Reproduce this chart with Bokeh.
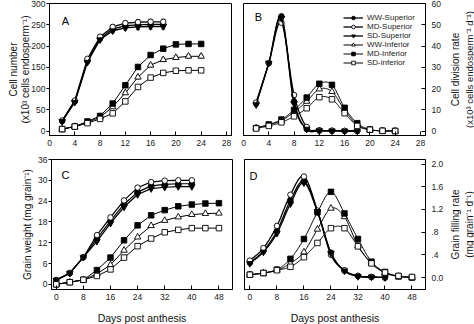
import numpy as np
from bokeh.plotting import figure
from bokeh.layouts import column, row
from bokeh.models import (Range1d, FixedTicker, Label, Legend, LegendItem, Whisker, ColumnDataSource,
                          TeeHead, LinearAxis)
from bokeh.embed import file_html
from bokeh.resources import INLINE

FONT = "Liberation Sans"

# ---------------- data ----------------
names = ["WW-Superior", "MD-Superior", "SD-Superior", "WW-Inferior", "MD-Inferior", "SD-inferior"]

# Panel A: cell number (x10^3 cells endosperm^-1)
a_days_sup = [2, 4, 6, 8, 10, 12, 14, 16, 18]
a_days_inf = [2, 4, 6, 8, 10, 12, 14, 16, 18, 20, 22, 24]
a_ww_sup = [24, 70, 165, 218, 240, 248, 250, 251, 251]
a_md_sup = [25, 72, 170, 222, 245, 254, 256, 257, 257]
a_sd_sup = [23, 68, 162, 215, 236, 243, 245, 246, 246]
a_ww_inf = [5, 11, 21, 33, 57, 90, 127, 155, 168, 173, 176, 176]
a_md_inf = [5, 11, 23, 36, 65, 108, 151, 179, 194, 204, 205, 205]
a_sd_inf = [5, 11, 19, 29, 42, 70, 104, 126, 137, 142, 143, 143]
a_err_sup = [1, 2, 3, 4, 5, 5, 6, 6, 6]
a_err_inf = [1, 1, 2, 2, 3, 3, 4, 4, 4, 4, 4, 4]

# Panel B: cell division rate (x10^3 cells endosperm^-1 d^-1)
b_days_sup = [2, 4, 6, 8, 10, 12, 14, 16, 18]
b_days_inf = [2, 4, 6, 8, 10, 12, 14, 16, 18, 20, 22, 24]
b_ww_sup = [13, 32, 54, 14, 1.0, 0.3, 0.2, 0.1, 0.1]
b_md_sup = [13.5, 32, 51, 17, 2.0, 0.5, 0.3, 0.2, 0.1]
b_sd_sup = [12.5, 32, 53, 13, 1.0, 0.3, 0.2, 0.1, 0.1]
b_ww_inf = [1.5, 3.0, 5.0, 9.0, 14, 19.8, 18.6, 10, 3.0, 0.7, 0.2, 0.1]
b_md_inf = [1.5, 3.2, 5.5, 10, 15.8, 22.3, 21.8, 11, 3.8, 0.8, 0.2, 0.1]
b_sd_inf = [1.3, 2.5, 4.2, 7.0, 10.8, 16.0, 15.0, 8.5, 2.5, 0.7, 0.2, 0.1]

# Panel C: grain weight (mg grain^-1)
c_days_sup = [0, 4, 8, 12, 16, 20, 24, 28, 32, 36, 40]
c_days_inf = [0, 4, 8, 12, 16, 20, 24, 28, 32, 36, 40, 44, 48]
c_ww_sup = [1.2, 3.2, 7.8, 13.2, 18.3, 23.1, 26.6, 28.4, 28.8, 29.0, 29.0]
c_md_sup = [1.2, 3.3, 7.8, 14.2, 19.3, 24.2, 27.9, 29.5, 29.9, 30.0, 30.0]
c_sd_sup = [1.2, 3.2, 7.8, 12.4, 17.6, 22.3, 25.9, 27.6, 28.0, 28.2, 28.2]
c_ww_inf = [0.0, 0.6, 1.3, 3.0, 5.6, 9.8, 13.6, 16.9, 18.4, 19.4, 20.1, 20.4, 20.5]
c_md_inf = [0.0, 0.6, 1.3, 4.1, 7.7, 12.7, 17.0, 19.9, 21.4, 22.5, 23.0, 23.3, 23.4]
c_sd_inf = [0.0, 0.6, 1.3, 2.4, 4.3, 7.7, 11.0, 13.2, 15.0, 15.7, 16.2, 16.2, 16.2]

# Panel D: grain filling rate (mg grain^-1 d^-1)
d_days_sup = [0, 4, 8, 12, 16, 20, 24, 28, 32, 36, 40]
d_days_inf = [0, 4, 8, 12, 16, 20, 24, 28, 32, 36, 40, 44, 48]
d_ww_sup = [0.26, 0.47, 0.82, 1.36, 1.70, 1.17, 0.44, 0.12, 0.03, 0.01, 0.0]
d_md_sup = [0.30, 0.52, 0.91, 1.46, 1.78, 1.18, 0.40, 0.13, 0.03, 0.01, 0.0]
d_sd_sup = [0.25, 0.45, 0.78, 1.30, 1.67, 1.16, 0.43, 0.12, 0.02, 0.01, 0.0]
d_ww_inf = [0.05, 0.08, 0.13, 0.25, 0.45, 0.85, 1.22, 1.07, 0.56, 0.25, 0.08, 0.02, 0.0]
d_md_inf = [0.05, 0.08, 0.14, 0.33, 0.68, 1.15, 1.51, 1.13, 0.68, 0.28, 0.10, 0.02, 0.0]
d_sd_inf = [0.05, 0.08, 0.13, 0.19, 0.36, 0.61, 0.87, 0.87, 0.55, 0.25, 0.09, 0.03, 0.01]

ticks_top_x = [0, 4, 8, 12, 16, 20, 24, 28]
ticks_bot_x = [0, 8, 16, 24, 32, 40, 48]
ticks_a_y = [0, 50, 100, 150, 200, 250, 300]
ticks_b_y = [0, 10, 20, 30, 40, 50, 60]
ticks_c_y = [0, 6, 12, 18, 24, 30, 36]
ticks_d_y = [0.0, 0.4, 0.8, 1.2, 1.6, 2.0]
labels_d_y = {0.0: "0.0", 0.4: ".4", 0.8: ".8", 1.2: "1.2", 1.6: "1.6", 2.0: "2.0"}

title_a1, title_a2 = "Cell number", "(x10³ cells endosperm⁻¹)"
title_b1, title_b2 = "Cell division rate", "(x10³ cells endosperm⁻¹ d⁻¹)"
title_c = "Grain weight (mg grain⁻¹)"
title_d1, title_d2 = "Grain filling rate", "(mg grain⁻¹ d⁻¹)"
title_x = "Days post anthesis"

styles = {
    "WW-Superior": dict(marker="circle", fill="black", size=5.5),
    "MD-Superior": dict(marker="circle", fill="white", size=5.5),
    "SD-Superior": dict(marker="inverted_triangle", fill="black", size=6.5),
    "WW-Inferior": dict(marker="triangle", fill="white", size=6.5),
    "MD-Inferior": dict(marker="square", fill="black", size=5.5),
    "SD-inferior": dict(marker="square", fill="white", size=5.5),
}


def smooth(xs, ys, n=16):
    xs = np.asarray(xs, float)
    ys = np.asarray(ys, float)
    px = np.concatenate([[2 * xs[0] - xs[1]], xs, [2 * xs[-1] - xs[-2]]])
    py = np.concatenate([[2 * ys[0] - ys[1]], ys, [2 * ys[-1] - ys[-2]]])
    ox, oy = [], []
    t = np.linspace(0, 1, n, endpoint=False)
    for i in range(1, len(px) - 2):
        for arr, out in ((px, ox), (py, oy)):
            p0, p1, p2, p3 = arr[i - 1], arr[i], arr[i + 1], arr[i + 2]
            out.extend(0.5 * ((2 * p1) + (-p0 + p2) * t + (2 * p0 - 5 * p1 + 4 * p2 - p3) * t ** 2
                              + (-p0 + 3 * p1 - 3 * p2 + p3) * t ** 3))
    ox.append(xs[-1])
    oy.append(ys[-1])
    return ox, oy


def style_label(ax, size):
    ax.axis_label_text_font = FONT
    ax.axis_label_text_font_size = size
    ax.axis_label_text_font_style = "normal"
    ax.axis_label_text_color = "#111111"


def make_fig(xr, yr, fw, fh, bl, br, bt, bb, yside, xt, yt, xtitle=None):
    p = figure(frame_width=fw, frame_height=fh, x_range=Range1d(*xr), y_range=Range1d(*yr),
               output_backend="svg", toolbar_location=None, y_axis_location=yside,
               min_border_left=bl, min_border_right=br, min_border_top=bt, min_border_bottom=bb,
               background_fill_color="white", border_fill_color="white")
    p.grid.visible = False
    p.outline_line_color = "black"
    p.outline_line_alpha = 1.0
    p.outline_line_width = 1
    p.xaxis.ticker = FixedTicker(ticks=xt)
    p.yaxis.ticker = FixedTicker(ticks=yt)
    for ax in p.axis:
        ax.major_label_text_font = FONT
        ax.major_label_text_font_size = "8.5px"
        ax.major_label_text_color = "#222222"
        ax.minor_tick_line_color = None
        ax.axis_line_color = "black"
        ax.major_tick_line_color = "black"
        style_label(ax, "10px")
    p.xaxis.major_tick_in = 4
    p.xaxis.major_tick_out = 0
    p.xaxis.major_label_standoff = 4
    if xtitle:
        p.xaxis.axis_label = xtitle
        p.xaxis.axis_label_text_font_size = "10.5px"
        p.xaxis.axis_label_standoff = 9
    if yside == "left":
        p.yaxis.major_tick_in = 0
        p.yaxis.major_tick_out = 3
        p.yaxis.major_label_standoff = 1
    else:
        p.yaxis.major_tick_in = 4
        p.yaxis.major_tick_out = 0
        p.yaxis.major_label_standoff = 6
    return p


def title_axis(text, size, standoff):
    ax = LinearAxis(ticker=FixedTicker(ticks=[]), axis_line_color=None, major_tick_line_color=None,
                    minor_tick_line_color=None, major_tick_in=0, major_tick_out=0,
                    major_label_standoff=0, axis_label=text, axis_label_standoff=standoff)
    style_label(ax, size)
    return ax


def title_strip(fh, bt, bb, inner, outer, size_in, size_out, s_in, s_out):
    # narrow strip to the right of a panel; its left-side axes carry the right-hand titles
    t = figure(frame_width=1, frame_height=fh, min_border_left=27, min_border_right=0,
               min_border_top=bt, min_border_bottom=bb, x_range=Range1d(0, 1), y_range=Range1d(0, 1),
               x_axis_location=None, y_axis_location=None, output_backend="svg", toolbar_location=None,
               background_fill_color="white", border_fill_color="white")
    t.outline_line_color = None
    t.grid.visible = False
    t.add_layout(title_axis(outer, size_out, s_out), "left")
    t.add_layout(title_axis(inner, size_in, s_in), "left")
    return t


def add_text(p, x, y, text, size):
    p.add_layout(Label(x=x, y=y, x_units="screen", y_units="screen", text=text,
                       text_font=FONT, text_font_size=size, text_align="center",
                       text_baseline="middle", text_color="black"))


def draw_series(p, days, vals, name, smooth_line, lw):
    st = styles[name]
    if smooth_line:
        lx, ly = smooth(days, vals)
    else:
        lx, ly = days, vals
    lr = p.line(lx, ly, line_color="black", line_width=lw)
    sr = p.scatter(days, vals, marker=st["marker"], size=st["size"], fill_color=st["fill"],
                   line_color="black", line_width=0.9)
    return lr, sr


# ---------------- panel A ----------------
pA = make_fig((0, 28.8), (-10, 300), 182, 132, 49, 6, 3, 16, "left", ticks_top_x, ticks_a_y)
pA.yaxis[0].axis_label = title_a2
pA.yaxis[0].axis_label_standoff = -3
pA.add_layout(title_axis(title_a1, "10px", -1), "left")
sets_a = [(a_days_sup, a_ww_sup, "WW-Superior", a_err_sup), (a_days_sup, a_md_sup, "MD-Superior", a_err_sup),
          (a_days_sup, a_sd_sup, "SD-Superior", a_err_sup), (a_days_inf, a_ww_inf, "WW-Inferior", a_err_inf),
          (a_days_inf, a_md_inf, "MD-Inferior", a_err_inf), (a_days_inf, a_sd_inf, "SD-inferior", a_err_inf)]
for d, v, n, e in sets_a:
    src = ColumnDataSource(dict(x=d, u=[a + b for a, b in zip(v, e)], l=[a - b for a, b in zip(v, e)]))
    pA.add_layout(Whisker(source=src, base="x", upper="u", lower="l", line_color="black", line_width=0.8,
                          upper_head=TeeHead(size=4, line_color="black", line_width=0.8),
                          lower_head=TeeHead(size=4, line_color="black", line_width=0.8)))
for d, v, n, e in sets_a:
    draw_series(pA, d, v, n, False, 1.3 if "Superior" in n else 1.0)
add_text(pA, 16, 115, "A", "11px")

# ---------------- panel B ----------------
pB = make_fig((0, 28.8), (-2, 60), 182, 132, 6, 21, 3, 16, "right", ticks_top_x, ticks_b_y)
sets_b = [(b_days_sup, b_ww_sup, "WW-Superior"), (b_days_sup, b_md_sup, "MD-Superior"),
          (b_days_sup, b_sd_sup, "SD-Superior"), (b_days_inf, b_ww_inf, "WW-Inferior"),
          (b_days_inf, b_md_inf, "MD-Inferior"), (b_days_inf, b_sd_inf, "SD-inferior")]
items = []
for d, v, n in sets_b:
    lr, sr = draw_series(pB, d, v, n, True, 1.3 if "Superior" in n else 1.0)
    items.append(LegendItem(label=n, renderers=[lr, sr]))
leg = Legend(items=items, location=(100, 68), padding=0, margin=0, spacing=0,
             glyph_width=20, glyph_height=9, label_height=9, label_standoff=4,
             label_text_font=FONT, label_text_font_size="8px", label_text_color="#222222",
             border_line_color=None, background_fill_alpha=0.0)
pB.add_layout(leg)
add_text(pB, 15, 119, "B", "11px")
tB = title_strip(132, 3, 16, title_b1, title_b2, "10px", "9.5px", 0, 0)

# ---------------- panel C ----------------
pC = make_fig((-1.4, 52), (-1.5, 36), 181, 130, 51, 5, 8, 35, "left", ticks_bot_x, ticks_c_y, title_x)
pC.yaxis[0].axis_label = title_c
pC.yaxis[0].axis_label_standoff = 2
sets_c = [(c_days_sup, c_ww_sup, "WW-Superior"), (c_days_sup, c_md_sup, "MD-Superior"),
          (c_days_sup, c_sd_sup, "SD-Superior"), (c_days_inf, c_ww_inf, "WW-Inferior"),
          (c_days_inf, c_md_inf, "MD-Inferior"), (c_days_inf, c_sd_inf, "SD-inferior")]
for d, v, n in sets_c:
    draw_series(pC, d, v, n, False, 1.2 if "Superior" in n else 1.0)
add_text(pC, 14, 115, "C", "11px")

# ---------------- panel D ----------------
pD = make_fig((-1.6, 52), (-0.21, 2.08), 181, 130, 7, 21, 8, 35, "right", ticks_bot_x, ticks_d_y, title_x)
pD.yaxis.major_label_overrides = labels_d_y
sets_d = [(d_days_sup, d_ww_sup, "WW-Superior"), (d_days_sup, d_md_sup, "MD-Superior"),
          (d_days_sup, d_sd_sup, "SD-Superior"), (d_days_inf, d_ww_inf, "WW-Inferior"),
          (d_days_inf, d_md_inf, "MD-Inferior"), (d_days_inf, d_sd_inf, "SD-inferior")]
for d, v, n in sets_d:
    draw_series(pD, d, v, n, True, 1.3 if "Superior" in n else 1.0)
add_text(pD, 9, 114, "D", "11px")
tD = title_strip(130, 8, 35, title_d1, title_d2, "10px", "10px", 0, 5)

layout = column(row(pA, pB, tB), row(pC, pD, tD))
open("out.html", "w").write(file_html(layout, INLINE))
